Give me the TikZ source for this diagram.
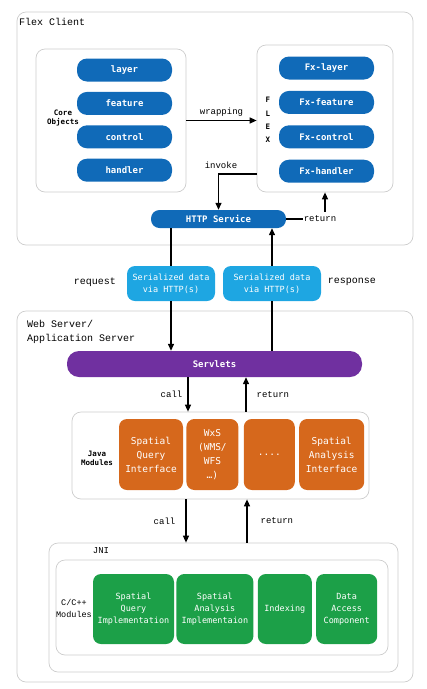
\documentclass[tikz,border=0pt]{standalone}
\usepackage{fontspec}
\setmonofont{Liberation Mono}
\newfontfamily\boxfont{DejaVu Sans Mono}
\usepackage{tikz}
\usetikzlibrary{positioning,arrows.meta}
\definecolor{pillblue}{RGB}{16,106,184}
\definecolor{wireblue}{RGB}{30,166,226}
\definecolor{servletpurple}{RGB}{112,48,160}
\definecolor{javaorange}{RGB}{214,104,28}
\definecolor{nativegreen}{RGB}{28,160,72}
\definecolor{framegray}{RGB}{205,205,205}

\begin{document}
\begin{tikzpicture}[
        x=1pt, y=-1pt,
        frame/.style={draw=framegray, line width=0.7pt, rounded corners=9pt},
        pill/.style={fill=#1, text=white, rounded corners=10pt,
            minimum width=95pt, minimum height=23pt, inner sep=1pt,
            font=\boxfont\bfseries\fontsize{9}{10}\selectfont},
        tile/.style={fill=#1, text=white, rounded corners=8pt,
            minimum height=71pt, inner sep=1pt, align=center,
            font=\boxfont\fontsize{9.5}{14}\selectfont},
        lbl/.style={font=\ttfamily\fontsize{9}{10}\selectfont, inner sep=1pt},
        title/.style={font=\ttfamily\fontsize{10}{14}\selectfont, inner sep=0pt, align=left},
        tag/.style={font=\boxfont\bfseries\fontsize{7.5}{9}\selectfont, align=center, inner sep=1pt},
        link/.style={-{Triangle[length=7pt,width=6pt]}, line width=1.3pt},
        wire/.style={line width=1.3pt}
    ]
        \useasboundingbox (0,0) rectangle (427,689);

        % Flex client
        \node[frame, minimum width=396pt, minimum height=233pt] (client) at (215,128.5) {};
        \node[title, anchor=west] (clienttitle) at (19,22) {Flex Client};

        \node[frame, minimum width=150pt, minimum height=143pt] (core) at (111,120.5) {};
        \node[tag] (corelabel) at (63,118) {Core\\Objects};
        \node[pill=pillblue] (layer) at (124.5,70) {layer};
        \node[pill=pillblue, below=10pt of layer] (feature) {feature};
        \node[pill=pillblue, below=10pt of feature] (control) {control};
        \node[pill=pillblue, below=10pt of control] (handler) {handler};

        \node[frame, minimum width=136pt, minimum height=147pt] (flex) at (325,118.5) {};
        \node[tag, font=\boxfont\bfseries\fontsize{7.5}{13.3}\selectfont] (flexlabel) at (268,120) {F\\L\\E\\X};
        \node[pill=pillblue] (fxlayer) at (326.5,68) {Fx-layer};
        \node[pill=pillblue, below=11pt of fxlayer] (fxfeature) {Fx-feature};
        \node[pill=pillblue, below=11pt of fxfeature] (fxcontrol) {Fx-control};
        \node[pill=pillblue, below=11pt of fxcontrol] (fxhandler) {Fx-handler};

        \draw[link] (core.east) -- (core.east -| flex.west)
            node[midway, above=2pt, lbl] {wrapping};

        \node[pill=pillblue, minimum width=135pt, minimum height=18pt, rounded corners=8.5pt] (http) at (218.5,219) {HTTP Service};
        \coordinate (invokept) at (218,174);
        \draw[link] (flex.west |- invokept) -| (http.north);
        \node[lbl] (invokelabel) at (221,165) {invoke};
        \node[lbl] (httpreturn) at (320,219) {return};
        \draw[wire] (http.east) -- (httpreturn.west);
        \draw[link] ([yshift=3pt]httpreturn.north -| flex.south) -- (flex.south);

        % transport
        \node[tile=wireblue, minimum width=88pt, minimum height=35pt,
            font=\boxfont\fontsize{8.5}{12}\selectfont] (reqdata) at (171,283.5) {Serialized data\\via HTTP(s)};
        \node[tile=wireblue, minimum width=98pt, minimum height=35pt,
            font=\boxfont\fontsize{8.5}{12}\selectfont] (respdata) at (272,283.5) {Serialized data\\via HTTP(s)};
        \node[lbl, font=\ttfamily\fontsize{10}{10}\selectfont] (request) at (95,282) {request};
        \node[lbl, font=\ttfamily\fontsize{10}{10}\selectfont] (response) at (352,282) {response};

        % Web server
        \node[frame, minimum width=396pt, minimum height=371pt] (web) at (215,496.5) {};
        \node[title, anchor=north west] (webtitle) at (27,320) {Web Server/\\Application Server};
        \node[pill=servletpurple, minimum width=295pt, minimum height=26pt, rounded corners=12pt] (servlets) at (214.5,364) {Servlets};

        \draw[wire] (http.south -| reqdata.north) -- (reqdata.north);
        \draw[link] (reqdata.south) -- (servlets.north -| reqdata.south);
        \draw[wire] (servlets.north -| respdata.south) -- (respdata.south);
        \draw[link] (respdata.north) -- (http.south -| respdata.north);

        \node[frame, minimum width=297pt, minimum height=87pt] (java) at (220.5,455.5) {};
        \node[tag] (javalabel) at (97,458) {Java\\Modules};
        \node[tile=javaorange, minimum width=64pt] (sqi) at (151,454.5) {Spatial\\Query\\Interface};
        \node[tile=javaorange, minimum width=52pt, right=3pt of sqi] (wxs) {WxS\\(WMS/\\WFS\\…)};
        \node[tile=javaorange, minimum width=51pt, right=5pt of wxs] (more) {....};
        \node[tile=javaorange, minimum width=65pt, right=4pt of more] (sai) {Spatial\\Analysis\\Interface};

        \coordinate (callx) at (188,0);
        \coordinate (retx) at (246,0);
        \draw[link] (servlets.south -| callx) -- (java.north -| callx)
            node[midway, left=4pt, lbl] {call};
        \draw[link] (java.north -| retx) -- (servlets.south -| retx)
            node[midway, right=9pt, lbl] {return};

        % native layer
        \node[frame, minimum width=349pt, minimum height=129pt] (jni) at (223.5,607.5) {};
        \node[lbl] (jnilabel) at (101,551) {JNI};
        \node[frame, minimum width=332pt, minimum height=95pt] (cmod) at (222,607.5) {};
        \node[tag, font=\ttfamily\fontsize{8.5}{12}\selectfont] (cmodlabel) at (74,608) {C/C++\\Modules};
        \node[tile=nativegreen, minimum width=81pt, minimum height=70pt,
            font=\boxfont\fontsize{8.5}{12}\selectfont] (sqimpl) at (133.5,609) {Spatial\\Query\\Implementation};
        \node[tile=nativegreen, minimum width=77pt, minimum height=70pt,
            font=\boxfont\fontsize{8.5}{12}\selectfont, right=2pt of sqimpl] (saimpl) {Spatial\\Analysis\\Implementaion};
        \node[tile=nativegreen, minimum width=54pt, minimum height=70pt,
            font=\boxfont\fontsize{8.5}{12}\selectfont, right=4pt of saimpl] (indexing) {Indexing};
        \node[tile=nativegreen, minimum width=61pt, minimum height=70pt,
            font=\boxfont\fontsize{8.5}{12}\selectfont, right=4pt of indexing] (dac) {Data\\Access\\Component};

        \coordinate (jcallx) at (186,0);
        \coordinate (jretx) at (247,0);
        \draw[link] (java.south -| jcallx) -- (jni.north -| jcallx)
            node[midway, left=9pt, lbl] {call};
        \draw[link] (jni.north -| jretx) -- (java.south -| jretx)
            node[midway, right=12pt, lbl] {return};
    \end{tikzpicture}
\end{document}
